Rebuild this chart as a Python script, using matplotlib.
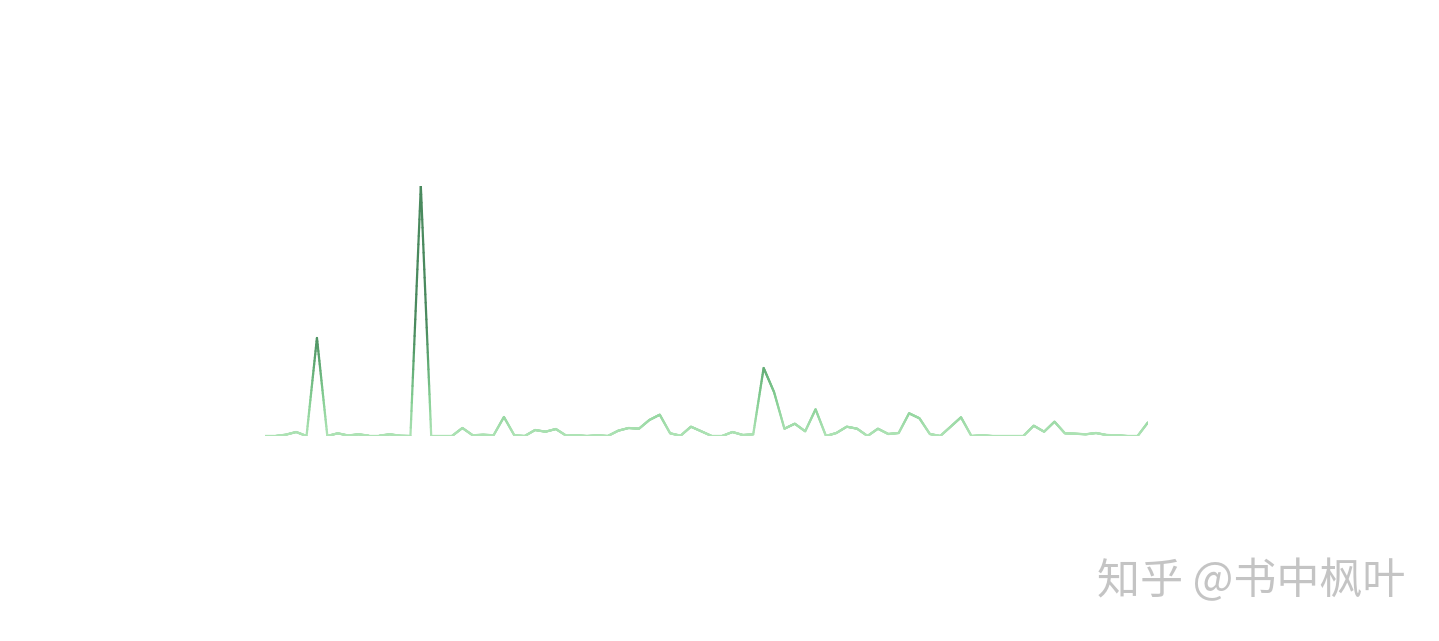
import numpy as np
import matplotlib.pyplot as plt
from matplotlib.collections import LineCollection
from matplotlib.colors import LinearSegmentedColormap

plt.rcParams['font.family'] = ['Noto Sans CJK SC', 'DejaVu Sans']

# values (one per step)
values = [0, 0, 1.3, 4, 0, 98, 0, 2.7, 0.5, 1.7,
          0.3, 0.3, 1.7, 0.3, 0, 250, 0, 0, 0, 8,
          0.7, 1.3, 0.7, 19, 0.7, 0, 6, 4.3, 7, 0.3,
          0.7, 0, 0.7, 0, 5.3, 8, 7.3, 16, 21.3, 2.7,
          0.3, 9.3, 4.7, 0, 0, 4, 1, 1.7, 68, 44,
          7.3, 12.3, 4.7, 26.7, 0, 3, 9.3, 7.3, 0, 7.3,
          2, 3, 22.7, 17.7, 2, 0, 9.3, 18.7, 0, 0.7,
          0, 0, 0, 0, 10.3, 4.3, 14.3, 2.7, 2.3, 1.7,
          3, 1, 0.7, 0, 0, 13.7]
x = np.arange(len(values))
y = np.array(values, dtype=float)

fig = plt.figure(figsize=(14.39, 6.41), dpi=100)
ax = fig.add_axes([265 / 1439, (641 - 436) / 641, 883 / 1439, 250 / 641])

# split every segment into small pieces so the colour follows the height
n = 30
xs = np.concatenate([np.linspace(x[i], x[i + 1], n, endpoint=False) for i in range(len(x) - 1)] + [[x[-1]]])
ys = np.concatenate([np.linspace(y[i], y[i + 1], n, endpoint=False) for i in range(len(y) - 1)] + [[y[-1]]])

cmap = LinearSegmentedColormap.from_list('greens', ['#aee3b5', '#86cf94', '#5ea872', '#4a8a5e'])
pts = np.column_stack([xs, ys]).reshape(-1, 1, 2)
segs = np.concatenate([pts[:-1], pts[1:]], axis=1)
lc = LineCollection(segs, cmap=cmap, linewidth=1.6, capstyle='round', joinstyle='round')
lc.set_array((ys[:-1] + ys[1:]) / 2)
lc.set_clim(0, 110)
ax.add_collection(lc)

ax.set_xlim(0, len(values) - 1)
ax.set_ylim(0, 250)
ax.axis('off')

fig.text(1405 / 1439, (641 - 582) / 641, '知乎 @书中枫叶', ha='right', va='center',
         fontsize=31, color='#c4c4c4')

fig.savefig('out.png', dpi=100, facecolor='white')
